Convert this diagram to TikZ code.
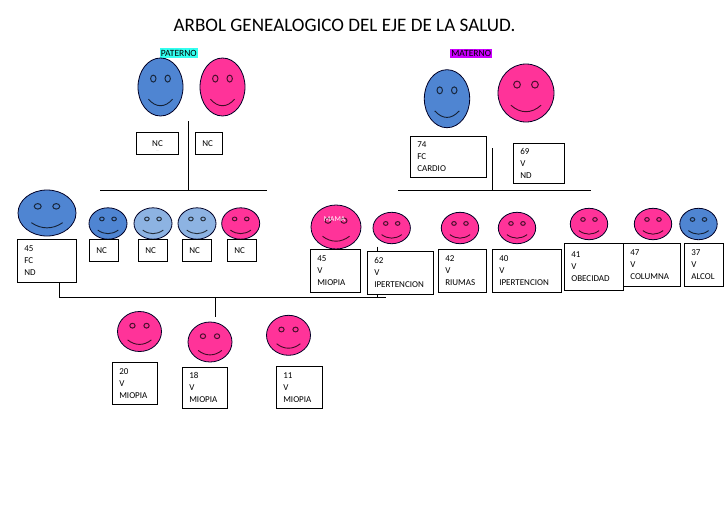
\documentclass[tikz,border=0pt]{standalone}
\usepackage{fontspec}
\setmainfont{Carlito}
\usepackage{tikz}
\lefthyphenmin=62
\definecolor{azul}{HTML}{4F85D2}
\definecolor{celeste}{HTML}{8DB3E2}
\definecolor{rosa}{HTML}{FF3399}
\definecolor{turquesa}{HTML}{33FFF0}
\definecolor{violeta}{HTML}{CC00FF}
\tikzset{
  linea/.style={line width=0.9pt, black},
  caja/.style={draw, line width=0.8pt, fill=white, inner ysep=0pt, align=left,
    font=\fontsize{9}{12}\selectfont},
  nota/.style={inner xsep=1pt, inner ysep=1.5pt, font=\fontsize{9.5}{10}\selectfont},
}
% cara: x, y, radio x, radio y, color
\newcommand{\carita}[5]{
  \begin{scope}[shift={(#1,#2)}, xscale=#3, yscale=#4]
    \draw[fill=#5, line width=0.8pt, draw=black!85!blue] (0,0) circle (1);
    \draw[line width=1pt, draw=#5!30!black] (-0.32,-0.29) circle (0.12);
    \draw[line width=1pt, draw=#5!30!black] (0.32,-0.29) circle (0.12);
    \draw[line width=0.9pt, draw=#5!25!black] (-0.54,0.42) .. controls (-0.2,0.72) and (0.2,0.72) .. (0.54,0.42);
  \end{scope}
}
% caja: nombre, x0, y0, x1, y1, texto
\newcommand{\caja}[6]{
  \pgfmathsetmacro{\anchocaja}{#4-#2}
  \pgfmathsetmacro{\altocaja}{#5-#3}
  \pgfmathsetmacro{\textocaja}{#4-#2-14}
  \node[caja, inner xsep=7pt, text width=\textocaja pt, minimum width=\anchocaja pt,
    minimum height=\altocaja pt] (#1) at ({(#2+#4)/2},{(#3+#5)/2}) {#6};
}

\begin{document}
\begin{tikzpicture}[x=1pt, y=-1pt]
  \useasboundingbox (0,0) rectangle (728,515);

  \node[font=\fontsize{19.1}{22}\selectfont] (titulo) at (344.5,25)
    {ARBOL GENEALOGICO DEL EJE DE LA SALUD.};

  % Abuelos paternos
  \node[nota, fill=turquesa] (paterno) at (178.8,53) {PATERNO};
  \carita{160.5}{87}{22.5}{29}{azul}
  \carita{222.5}{87}{22.5}{29}{rosa}
  \node[caja, minimum width=42.4pt, minimum height=22.4pt, inner sep=0pt] (nc1) at (157.5,143.5) {NC};
  \node[font=\fontsize{3}{3}\selectfont, gray] (puntos) at (157.5,151) {...};
  \caja{nc2}{195.3}{132.3}{222.7}{154.7}{NC}

  % Abuelos maternos
  \node[nota, fill=violeta] (materno) at (471.2,53.5) {MATERNO};
  \carita{447}{98.7}{22.7}{29}{azul}
  \carita{526}{93}{28}{29}{rosa}
  \caja{b74}{410.3}{136.3}{486.7}{177.3}{74\\FC\\CARDIO}
  \caja{b69}{513.3}{143.3}{564.7}{183.7}{69\\V\\ND}

  % Lineas de arriba
  \coordinate (patarriba) at (188.5,121);
  \coordinate (patcentro) at (188.5,190.5);
  \coordinate (patizq) at (100,190.5);
  \coordinate (patder) at (267,190.5);
  \draw[linea] (patarriba) -- (patcentro) (patizq) -- (patder);
  \coordinate (matarriba) at (492.3,148);
  \coordinate (matcentro) at (492.3,190.5);
  \coordinate (matizq) at (398,190.5);
  \coordinate (matder) at (591,190.5);
  \draw[linea] (matarriba) -- (matcentro) (matizq) -- (matder);

  % Rama paterna
  \carita{47}{213}{29}{23}{azul}
  \carita{108}{223.5}{19}{15.7}{azul}
  \carita{153}{223.5}{19}{15.7}{celeste}
  \carita{197}{223.5}{19}{15.7}{celeste}
  \carita{240.7}{223.5}{19}{15.7}{rosa}
  \caja{papa}{17.3}{239.3}{76.3}{282.3}{45\\FC\\ND}
  \caja{tio1}{89.3}{239.3}{118.7}{261.3}{NC}
  \caja{tio2}{138.3}{239.3}{167.7}{261.3}{NC}
  \caja{tio3}{182.3}{239.3}{211.7}{261.3}{NC}
  \caja{tio4}{227.3}{239.3}{256.7}{261.3}{NC}

  % Rama materna
  \carita{336}{227}{25}{22}{rosa}
  \node[font=\fontsize{7.5}{8}\selectfont, white] (mama) at (334.5,219.5) {MAMA};
  \carita{391.7}{228}{18.7}{15.7}{rosa}
  \carita{460}{228}{18.7}{15.7}{rosa}
  \carita{517}{228}{18.7}{15.7}{rosa}
  \carita{589}{224}{18.7}{15.7}{rosa}
  \carita{653}{224}{18.7}{15.7}{rosa}
  \carita{698.5}{224}{18.7}{15.7}{azul}
  \coordinate (tiaarriba) at (377.3,246.7);
  \coordinate (tiaabajo) at (377.3,297.3);
  \draw[linea] (tiaarriba) -- (tiaabajo);
  \caja{mama45}{310.3}{249.3}{360.7}{292.3}{45\\V\\MIOPIA}
  \caja{tia62}{367.3}{251.3}{433.3}{294.3}{62\\V\\IPERTENCION}
  \caja{tia42}{438.3}{249.3}{486.7}{292.3}{42\\V\\RIUMAS}
  \caja{tia40}{492.3}{249.3}{561.7}{292.3}{40\\V\\IPERTENCION}
  \caja{tia41}{564.3}{243.3}{623.3}{290.3}{41\\V\\OBECIDAD}
  \caja{tia47}{623.3}{243.3}{680.3}{286.3}{47\\V\\COLUMNA}
  \caja{tio37}{684.3}{243.3}{723.3}{286.3}{37\\V\\ALCOL}

  % Union de los padres
  \coordinate (unionizq) at (59.5,297.3);
  \coordinate (uniontope) at (59.5,282.3);
  \coordinate (unionder) at (385.7,297.3);
  \coordinate (hijosarriba) at (215.4,297.3);
  \coordinate (hijosabajo) at (215.4,316.7);
  \draw[linea] (uniontope) -- (unionizq) -- (unionder);
  \draw[linea] (hijosarriba) -- (hijosabajo);

  % Hijos
  \carita{139.5}{331.5}{22}{20}{rosa}
  \carita{210}{342}{22}{20}{rosa}
  \carita{288.5}{335.3}{22}{20}{rosa}
  \caja{hijo20}{112.3}{362.3}{157.7}{404.7}{20\\V\\MIOPIA}
  \caja{hijo18}{182.3}{367.3}{227.7}{408.3}{18\\V\\MIOPIA}
  \caja{hijo11}{276.3}{366.3}{322.7}{408.3}{11\\V\\MIOPIA}
\end{tikzpicture}
\end{document}
